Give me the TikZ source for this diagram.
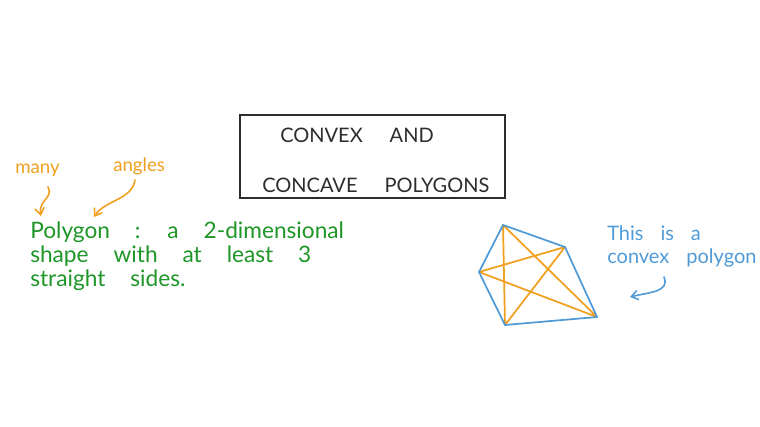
\documentclass[tikz,border=0pt]{standalone}
\usepackage{fontspec}
\setmainfont{Lato}
\usetikzlibrary{arrows.meta}
\definecolor{hgreen}{RGB}{30,150,40}
\definecolor{horange}{RGB}{240,160,30}
\definecolor{hblue}{RGB}{80,155,215}
\definecolor{hgray}{RGB}{45,45,45}
\newcommand\wideskip[1]{\spaceskip=#1\relax}
\tikzset{
  titletext/.style={text=hgray,font=\fontsize{15}{17}\selectfont,execute at begin node={\wideskip{1.35em}},inner sep=0pt,anchor=west},
  deftext/.style={text=hgreen,font=\fontsize{17}{19}\selectfont,execute at begin node={\wideskip{1.1em}},inner sep=0pt,anchor=west},
  notetext/.style={text=horange,font=\fontsize{14}{16}\selectfont,inner sep=0pt,anchor=west},
  bluetext/.style={text=hblue,font=\fontsize{15}{17}\selectfont,execute at begin node={\wideskip{0.85em}},inner sep=0pt,anchor=west},
  handarrow/.style={-{Straight Barb[length=5pt,width=7pt]},line width=1.2pt,line cap=round},
  edge/.style={hblue,line width=1.3pt,line join=round},
  diag/.style={horange,line width=1.3pt,line cap=round}
}
\begin{document}
\begin{tikzpicture}[x=0.75pt,y=-0.75pt]
\path[use as bounding box,fill=white] (0,0) rectangle (760,427);
% title box
\node[draw=hgray,line width=1.3pt,minimum width=265*0.75pt,minimum height=83*0.75pt,inner sep=0pt] (box) at (372.5,156.5) {};
\node[titletext] (t1) at (280,135) {CONVEX AND};
\node[titletext] (t2) at (262,185) {CONCAVE POLYGONS};
% notes
\node[notetext] (many) at (15,170) {many};
\node[notetext] (angles) at (113,166) {angles};
% definition
\node[deftext] (d1) at (30,232) {Polygon : a 2-dimensional};
\node[deftext] (d2) at (30,256) {shape with at least 3};
\node[deftext] (d3) at (30,280) {straight sides.};
% arrows to definition
\coordinate (m0) at (48,187);
\coordinate (m1) at (41,216);
\draw[handarrow,horange] (m0) .. controls (54,198) and (38,200) .. (m1);
\coordinate (a0) at (135,180);
\coordinate (a1) at (94,217);
\draw[handarrow,horange] (a0) .. controls (132,200) and (105,200) .. (a1);
% polygon
\coordinate (A) at (503,225);
\coordinate (B) at (565,247);
\coordinate (C) at (597,317);
\coordinate (D) at (505,325);
\coordinate (E) at (479,272);
\draw[diag] (A) -- (D) (A) -- (C) (E) -- (B) (E) -- (C) (B) -- (D);
\draw[edge] (A) -- (B) -- (C) -- (D) -- (E) -- cycle;
% blue note
\node[bluetext] (b1) at (607,233) {This is a};
\node[bluetext] (b2) at (607,258) {convex polygon};
\coordinate (c0) at (664,277);
\coordinate (c1) at (630,297);
\draw[handarrow,hblue] (c0) .. controls (670,292) and (650,292) .. (c1);
\end{tikzpicture}
\end{document}
